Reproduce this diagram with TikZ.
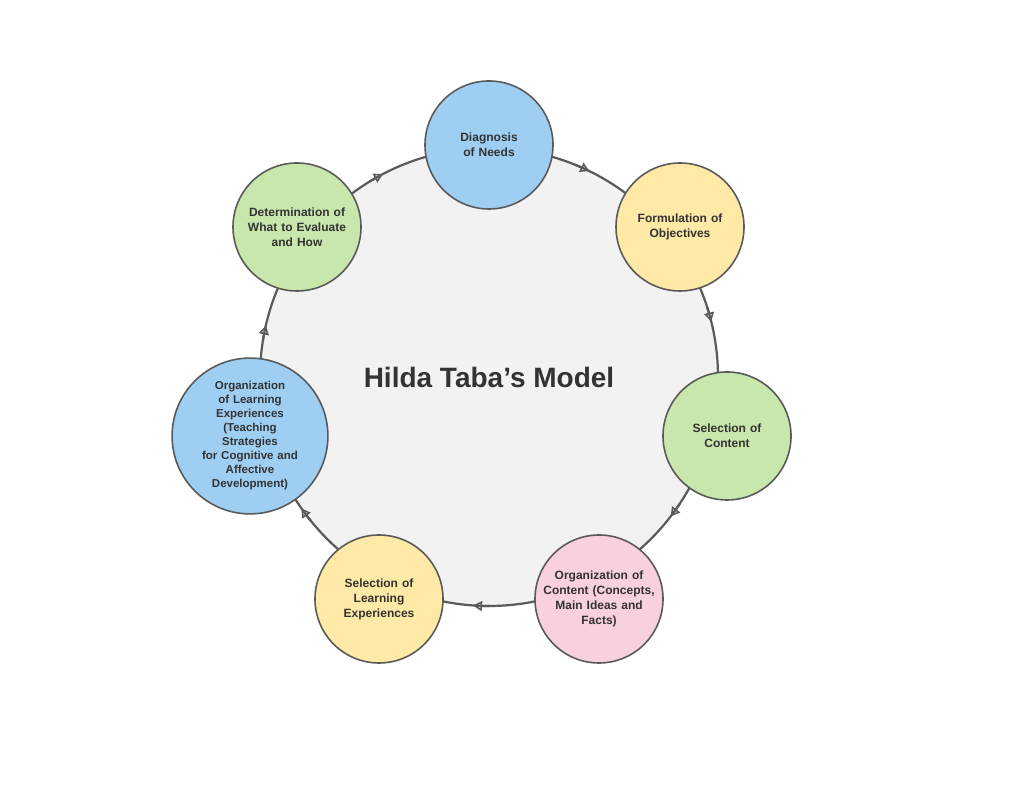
\documentclass[tikz,border=0pt]{standalone}
\usepackage{fontspec}
\setmainfont{Liberation Sans}
\usetikzlibrary{arrows.meta,calc}
\definecolor{ringfill}{HTML}{F2F2F2}
\definecolor{edge}{HTML}{5A5A5A}
\definecolor{txt}{HTML}{333333}
\definecolor{cblue}{HTML}{9ECFF3}
\definecolor{cyellow}{HTML}{FFE9A6}
\definecolor{cgreen}{HTML}{C9E7AC}
\definecolor{cpink}{HTML}{F8D1DD}
\begin{document}
\begin{tikzpicture}[x=1pt,y=1pt,
  stage/.style={circle,draw=edge,line width=1.6pt,minimum size=128pt,inner sep=0pt,
     text width=112pt,align=center,font=\bfseries\fontsize{12}{15}\selectfont,text=txt},
  tip/.style={draw=edge,line width=2.2pt,-{Triangle[open,length=9pt,width=10pt,line width=1.6pt]}}]
\useasboundingbox (0,0) rectangle (1024,791);
\fill[white] (0,0) rectangle (1024,791);
\coordinate (c) at (489,414);
\node[circle,draw=edge,fill=ringfill,line width=2.2pt,minimum size=458pt,inner sep=0pt] (ring) at (c) {};
\foreach \a in {64,14,-37.5,-94,-145,167,117.6}{
  \draw[tip] ($(c)+(\a+4:229)$) arc[start angle=\a+4,end angle=\a,radius=229];
}
\node[font=\bfseries\fontsize{28}{32}\selectfont,text=txt] (title) at (489,413) {Hilda Taba’s Model};
\node[stage,fill=cblue] (n1) at (489,646) {Diagnosis of Needs};
\node[stage,fill=cyellow] (n2) at (680,564) {Formulation of\\Objectives};
\node[stage,fill=cgreen] (n3) at (727,355) {Selection of\\Content};
\node[stage,fill=cpink] (n4) at (599,192) {Organization of\\Content (Concepts,\\Main Ideas and\\Facts)};
\node[stage,fill=cyellow] (n5) at (379,192) {Selection of\\Learning\\Experiences};
\node[stage,fill=cblue,font=\bfseries\fontsize{11.5}{14}\selectfont] (n6) at (250,355) {Organization\\of Learning\\Experiences\\(Teaching Strategies\\for Cognitive and\\Affective\\Development)};
\node[stage,fill=cgreen] (n7) at (297,564) {Determination of\\What to Evaluate\\and How};
\end{tikzpicture}
\end{document}
